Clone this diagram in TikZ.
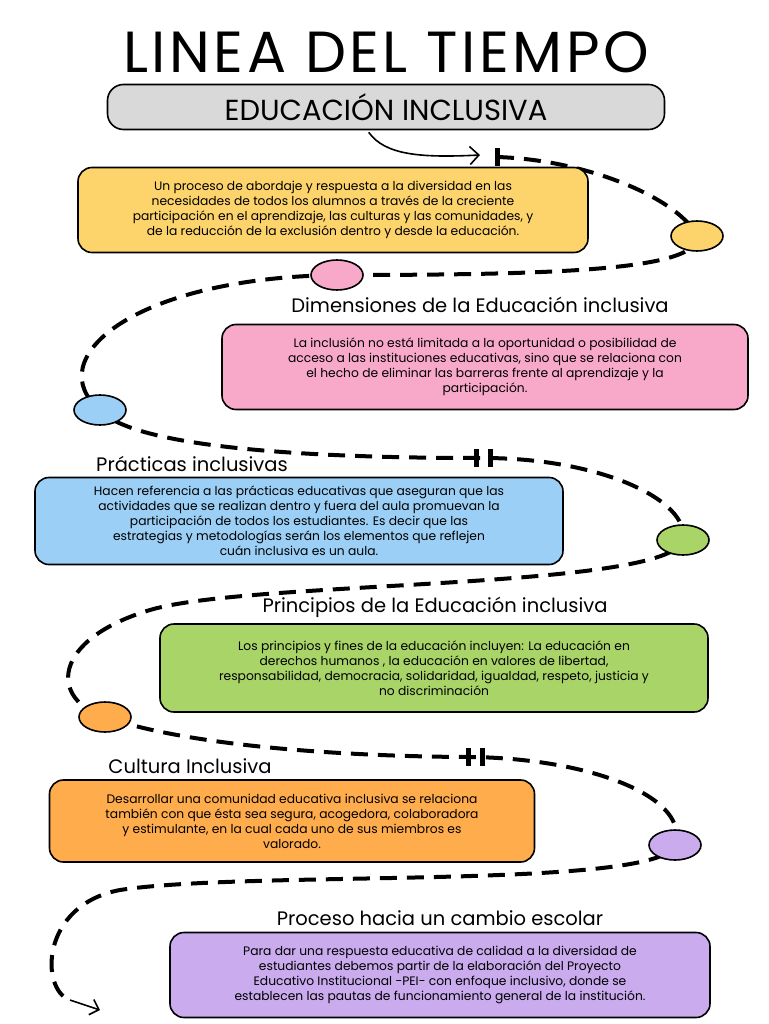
\documentclass[tikz,border=0pt]{standalone}
\usepackage{fontspec}
\setmainfont{Poppins}
\usetikzlibrary{arrows.meta,shapes.geometric}
\definecolor{cy}{HTML}{FDD46B}\definecolor{cp}{HTML}{F8A9C9}\definecolor{cb}{HTML}{9CCFF5}
\definecolor{cg}{HTML}{A9D468}\definecolor{co}{HTML}{FFAC4D}\definecolor{cv}{HTML}{C9ABEE}
\begin{document}
\begin{tikzpicture}[x=1pt,y=-1pt,
 box/.style={draw,line width=1.6pt,rounded corners=14pt,align=center,font=\fontsize{12.3}{15}\selectfont,inner sep=3pt},
 dot/.style={draw,line width=1.6pt,ellipse,minimum width=52pt,minimum height=30pt,inner sep=0pt},
 head/.style={font=\fontsize{19.5}{22}\selectfont},
 dsh/.style={line width=4pt,dash pattern=on 17pt off 10pt}]
\useasboundingbox (0,0) rectangle (768,1024);
\fill[white] (0,0) rectangle (768,1024);
\node[font=\fontsize{58}{62}\selectfont\addfontfeature{LetterSpace=6}] (title) at (386,52) {LINEA DEL TIEMPO};
\node[draw,fill=gray!30,line width=1.6pt,rounded corners=16pt,minimum width=557pt,minimum height=45pt,font=\fontsize{29}{32}\selectfont] (sub) at (386,107) {EDUCACIÓN INCLUSIVA};
% dashed path
\coordinate (t1) at (497,157);
\coordinate (t2) at (483,458);
\coordinate (t3) at (475,757);
\coordinate (end) at (100,1010);
\draw[dsh] (t1) .. controls (590,160) and (680,200) .. (697,236)
 .. controls (700,270) and (560,275) .. (337,275)
 .. controls (130,278) and (40,360) .. (100,410)
 .. controls (140,455) and (380,458) .. (t2)
 .. controls (600,458) and (690,500) .. (683,540)
 .. controls (670,590) and (250,580) .. (150,610)
 .. controls (50,640) and (50,700) .. (105,717)
 .. controls (200,750) and (380,757) .. (t3)
 .. controls (600,760) and (690,800) .. (675,845)
 .. controls (660,890) and (250,870) .. (120,890)
 .. controls (40,905) and (40,990) .. (70,1000);
\draw[line width=1.6pt,-{Straight Barb[length=8pt]}] (70,1000) -- (end);
\draw[line width=5pt] (497,148) -- (497,166);
\draw[line width=5pt] (476,449) -- (476,467) (490,449) -- (490,467);
\draw[line width=5pt] (468,748) -- (468,766) (482,748) -- (482,766);
\draw[line width=1.6pt,-{Straight Barb[length=9pt]}] (sub.south west) ++(262,2) .. controls (385,155) and (420,158) .. (480,155);
\node[dot,fill=cy] (c1) at (697,236) {};
\node[dot,fill=cp] (c2) at (337,275) {};
\node[dot,fill=cb] (c3) at (100,410) {};
\node[dot,fill=cg] (c4) at (683,540) {};
\node[dot,fill=co] (c5) at (105,717) {};
\node[dot,fill=cv] (c6) at (675,845) {};
% boxes
\node[box,fill=cy,minimum width=510pt,minimum height=85pt] (b1) at (333,210) {Un proceso de abordaje y respuesta a la diversidad en las\\necesidades de todos los alumnos a través de la creciente\\participación en el aprendizaje, las culturas y las comunidades, y\\de la reducción de la exclusión dentro y desde la educación.};
\node[head] (h2) at (480,305) {Dimensiones de la Educación inclusiva};
\node[box,fill=cp,minimum width=526pt,minimum height=85pt] (b2) at (485,367) {La inclusión no está limitada a la oportunidad o posibilidad de\\acceso a las instituciones educativas, sino que se relaciona con\\el hecho de eliminar las barreras frente al aprendizaje y la\\participación.};
\node[head] (h3) at (192,464) {Prácticas inclusivas};
\node[box,fill=cb,minimum width=528pt,minimum height=87pt] (b3) at (299,521) {Hacen referencia a las prácticas educativas que aseguran que las\\actividades que se realizan dentro y fuera del aula promuevan la\\participación de todos los estudiantes. Es decir que las\\estrategias y metodologías serán los elementos que reflejen\\cuán inclusiva es un aula.};
\node[head] (h4) at (435,607) {Principios de la Educación inclusiva};
\node[box,fill=cg,minimum width=548pt,minimum height=88pt] (b4) at (434,668) {Los principios y fines de la educación incluyen: La educación en\\derechos humanos ,  la educación en valores de libertad,\\responsabilidad, democracia, solidaridad, igualdad, respeto, justicia y\\no discriminación};
\node[head] (h5) at (190,766) {Cultura Inclusiva};
\node[box,fill=co,minimum width=485pt,minimum height=82pt] (b5) at (292,821) {Desarrollar una comunidad educativa inclusiva se relaciona\\también con que ésta sea segura, acogedora, colaboradora\\y estimulante, en la cual cada uno de sus miembros es\\valorado.};
\node[head] (h6) at (440,918) {Proceso hacia un cambio escolar};
\node[box,fill=cv,minimum width=540pt,minimum height=85pt] (b6) at (440,975) {Para dar una respuesta educativa de calidad a la diversidad de\\estudiantes debemos partir de la elaboración del Proyecto\\Educativo Institucional -PEI- con enfoque inclusivo, donde se\\establecen las pautas de funcionamiento general de la institución.};
\end{tikzpicture}
\end{document}
